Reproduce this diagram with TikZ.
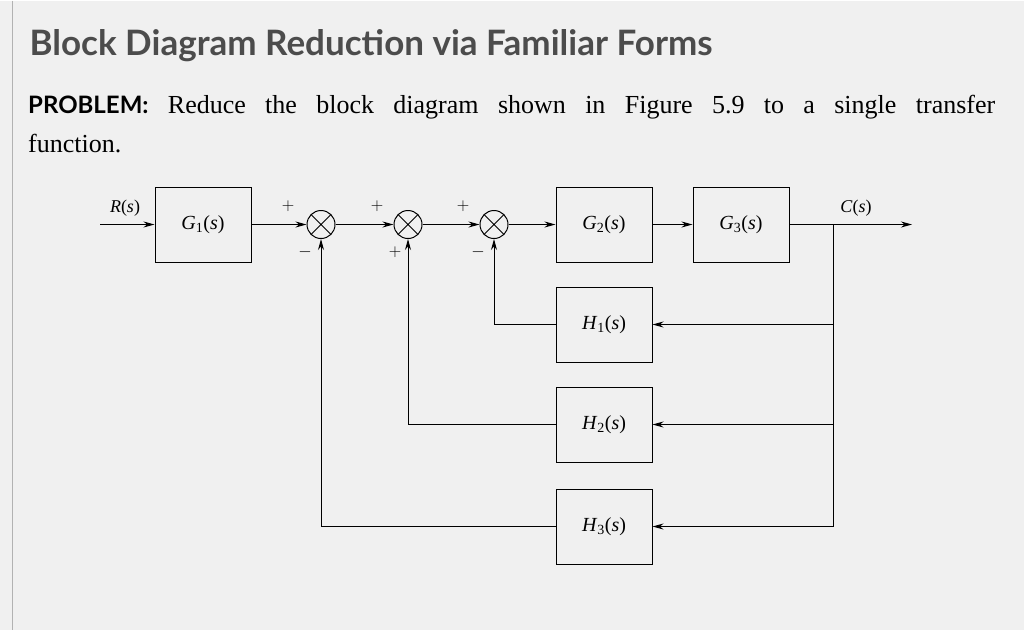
\documentclass[tikz,border=0pt]{standalone}
\usepackage{fontspec}
\setmainfont{Liberation Serif}
\newfontfamily\titlefont{Lato}
\usetikzlibrary{arrows.meta}
\newcommand{\tf}[2]{\textit{#1}\textsubscript{#2}(\textit{s})}
\begin{document}
\begin{tikzpicture}[x=1pt,y=-1pt,
  blk/.style={draw,line width=1pt,minimum width=96pt,minimum height=75pt,inner sep=0pt,font=\fontsize{20}{20}\selectfont},
  sm/.style={draw,line width=1pt,circle,minimum size=28pt,inner sep=0pt,path picture={\draw[line width=1pt] (path picture bounding box.north west)--(path picture bounding box.south east) (path picture bounding box.north east)--(path picture bounding box.south west);}},
  sig/.style={font=\fontsize{18}{18}\selectfont,inner sep=1pt},
  ar/.style={line width=1pt,-{Stealth[length=11pt,width=6pt]}},
  ln/.style={line width=1pt}]
\fill[gray!12] (0,0) rectangle (1024,629);
\draw[gray!60,line width=1pt] (12,0)--(12,629);
\node[anchor=west,text=black!70,font=\titlefont\bfseries\fontsize{35}{35}\selectfont] (title) at (26,45) {Block Diagram Reduction via Familiar Forms};
\node[anchor=west,font=\fontsize{26}{26}\selectfont,inner sep=0pt] (p1) at (28,107) {\makebox[967pt][s]{{\titlefont\bfseries\fontsize{24}{24}\selectfont PROBLEM:} Reduce the block diagram shown in Figure 5.9 to a single transfer}};
\node[anchor=west,font=\fontsize{26}{26}\selectfont,inner sep=0pt] (p2) at (28,143) {function.};
\node[blk] (G1) at (203,224) {\tf{G}{1}};
\node[sm] (S1) at (321,224) {};
\node[sm] (S2) at (408,224) {};
\node[sm] (S3) at (494,224) {};
\node[blk] (G2) at (604,224) {\tf{G}{2}};
\node[blk] (G3) at (741,224) {\tf{G}{3}};
\node[blk] (H1) at (604,324) {\tf{H}{1}};
\node[blk] (H2) at (604,424) {\tf{H}{2}};
\node[blk] (H3) at (604,526) {\tf{H}{3}};
\coordinate (in) at (100,224);
\coordinate (out) at (912,224);
\coordinate (br) at (833,224);
\node[sig] at (125,208) {\textit{R}(\textit{s})};
\node[sig] at (856,208) {\textit{C}(\textit{s})};
\draw[ar] (in)--(G1.west);
\draw[ar] (G1.east)--(S1.west);
\draw[ar] (S1.east)--(S2.west);
\draw[ar] (S2.east)--(S3.west);
\draw[ar] (S3.east)--(G2.west);
\draw[ar] (G2.east)--(G3.west);
\draw[ar] (G3.east)--(out);
\draw[ar] (br)|-(H1.east);
\draw[ar] (br)|-(H2.east);
\draw[ar] (br)|-(H3.east);
\draw[ar] (H1.west)-|(S3.south);
\draw[ar] (H2.west)-|(S2.south);
\draw[ar] (H3.west)-|(S1.south);
\node[sig] at (288,206) {$+$};
\node[sig] at (305,252) {$-$};
\node[sig] at (377,206) {$+$};
\node[sig] at (395,252) {$+$};
\node[sig] at (463,206) {$+$};
\node[sig] at (478,252) {$-$};
\end{tikzpicture}
\end{document}
